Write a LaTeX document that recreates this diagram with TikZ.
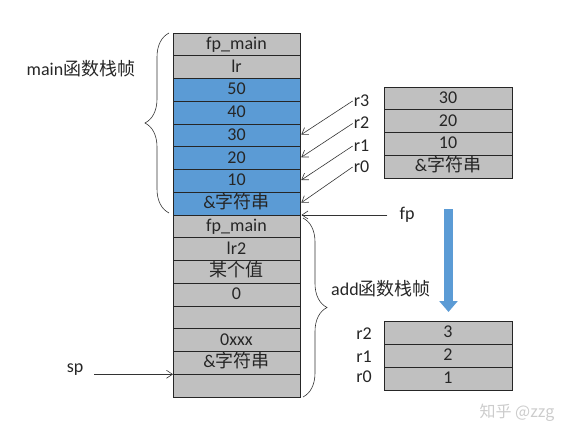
\documentclass[tikz,border=0pt]{standalone}
\usepackage{fontspec}
\setmainfont{Carlito}
\newfontfamily\cjk{Noto Sans CJK SC}
\usetikzlibrary{arrows.meta,decorations.pathreplacing}
\definecolor{cellgray}{RGB}{192,192,192}
\definecolor{cellblue}{RGB}{91,155,213}
\tikzset{
	cell/.style={draw=black!85, line width=0.8pt, fill=cellgray, minimum width=127pt, minimum height=22.75pt, inner sep=0pt, outer sep=0pt, text height=12pt, text depth=2pt, font=\fontsize{18}{20}\selectfont, text=black!85},
	bluecell/.style={cell, fill=cellblue},
	lab/.style={inner sep=1pt, text height=12pt, text depth=2pt, font=\fontsize{18}{20}\selectfont, text=black!85},
	ptr/.style={-{Straight Barb[length=6pt,width=8pt]}, line width=0.6pt, black!80},
	frame/.style={decorate, decoration={brace, amplitude=24pt}, line width=0.6pt, black!80}
}

\begin{document}
\begin{tikzpicture}[x=1pt, y=-1pt]
			%%%%% START %%%%%
			\useasboundingbox (0, 0) rectangle (571, 439);
			
			% main stack frame
			\node[cell] (fpmain) at (236.5, 44.4) {fp\_main};
			\node[cell] (lr) at (236.5, 67.1) {lr};
			\node[bluecell] (v50) at (236.5, 89.9) {50};
			\node[bluecell] (v40) at (236.5, 112.6) {40};
			\node[bluecell] (v30) at (236.5, 135.4) {30};
			\node[bluecell] (v20) at (236.5, 158.1) {20};
			\node[bluecell] (v10) at (236.5, 180.9) {10};
			\node[bluecell] (strp) at (236.5, 203.6) {\&{\cjk 字符串}};
			
			% add stack frame
			\node[cell] (fpmainb) at (236.5, 226.4) {fp\_main};
			\node[cell] (lrb) at (236.5, 249.1) {lr2};
			\node[cell] (someval) at (236.5, 271.9) {{\cjk 某个值}};
			\node[cell] (zero) at (236.5, 294.6) {0};
			\node[cell] (blanka) at (236.5, 317.4) {};
			\node[cell] (oxxx) at (236.5, 340.1) {0xxx};
			\node[cell] (strpb) at (236.5, 362.9) {\&{\cjk 字符串}};
			\node[cell] (blankb) at (236.5, 385.6) {};
			\draw[line width=1.6pt, black!85] (oxxx.south west) -- (oxxx.south east);
			
			% braces
			\draw[frame] (169, 213) -- (169, 33);
			\node[lab] (mainlab) at (81, 70) {main{\cjk 函数栈帧}};
			\draw[frame] (303, 218) -- (303, 397);
			\node[lab] (addlab) at (381, 290) {add{\cjk 函数栈帧}};
			
			% registers of main
			\node[lab] (rthree) at (361.5, 101) {r3};
			\node[lab] (rtwo) at (361.5, 123.5) {r2};
			\node[lab] (rone) at (361.5, 146) {r1};
			\node[lab] (rzero) at (361.5, 167) {r0};
			\draw[ptr, shorten >=1.5pt] (rthree.west) -- (v30.east);
			\draw[ptr, shorten >=1.5pt] (rtwo.west) -- (v20.east);
			\draw[ptr, shorten >=1.5pt] (rone.west) -- (v10.east);
			\draw[ptr, shorten >=1.5pt] (rzero.west) -- (strp.east);
			
			\node[cell, minimum width=128pt] (tthirty) at (448, 98.4) {30};
			\node[cell, minimum width=128pt] (ttwenty) at (448, 121.1) {20};
			\node[cell, minimum width=128pt] (tten) at (448, 143.9) {10};
			\node[cell, minimum width=128pt] (tstr) at (448, 166.6) {\&{\cjk 字符串}};
			
			% fp and sp
			\node[lab] (fp) at (407, 214) {fp};
			\draw[ptr, shorten <=11pt, shorten >=1.5pt] (fp.west |- strp.south east) -- (strp.south east);
			\node[lab] (sp) at (75, 367) {sp};
			\draw[ptr, shorten <=10pt] (sp.east |- strpb.south west) -- (strpb.south west);
			
			\coordinate (bluetop) at (448.5, 209);
			\coordinate (bluebot) at (448.5, 312);
			\draw[cellblue, line width=9pt, -{Triangle[width=18pt,length=11pt]}] (bluetop) -- (bluebot);
			
			% registers of add
			\node[cell, minimum width=128pt, minimum height=23pt] (athree) at (448, 332.5) {3};
			\node[cell, minimum width=128pt, minimum height=23pt] (atwo) at (448, 355.5) {2};
			\node[cell, minimum width=128pt, minimum height=23pt] (aone) at (448, 378.5) {1};
			\node[lab] (btwo) at (364, 334) {r2};
			\node[lab] (bone) at (364, 357) {r1};
			\node[lab] (bzero) at (364, 377.5) {r0};
			
			\node[text=gray!40, font=\cjk\fontsize{16}{18}\selectfont] (mark) at (517, 413) {知乎 @zzg};
			%%%%% END %%%%%
\end{tikzpicture}
\end{document}
